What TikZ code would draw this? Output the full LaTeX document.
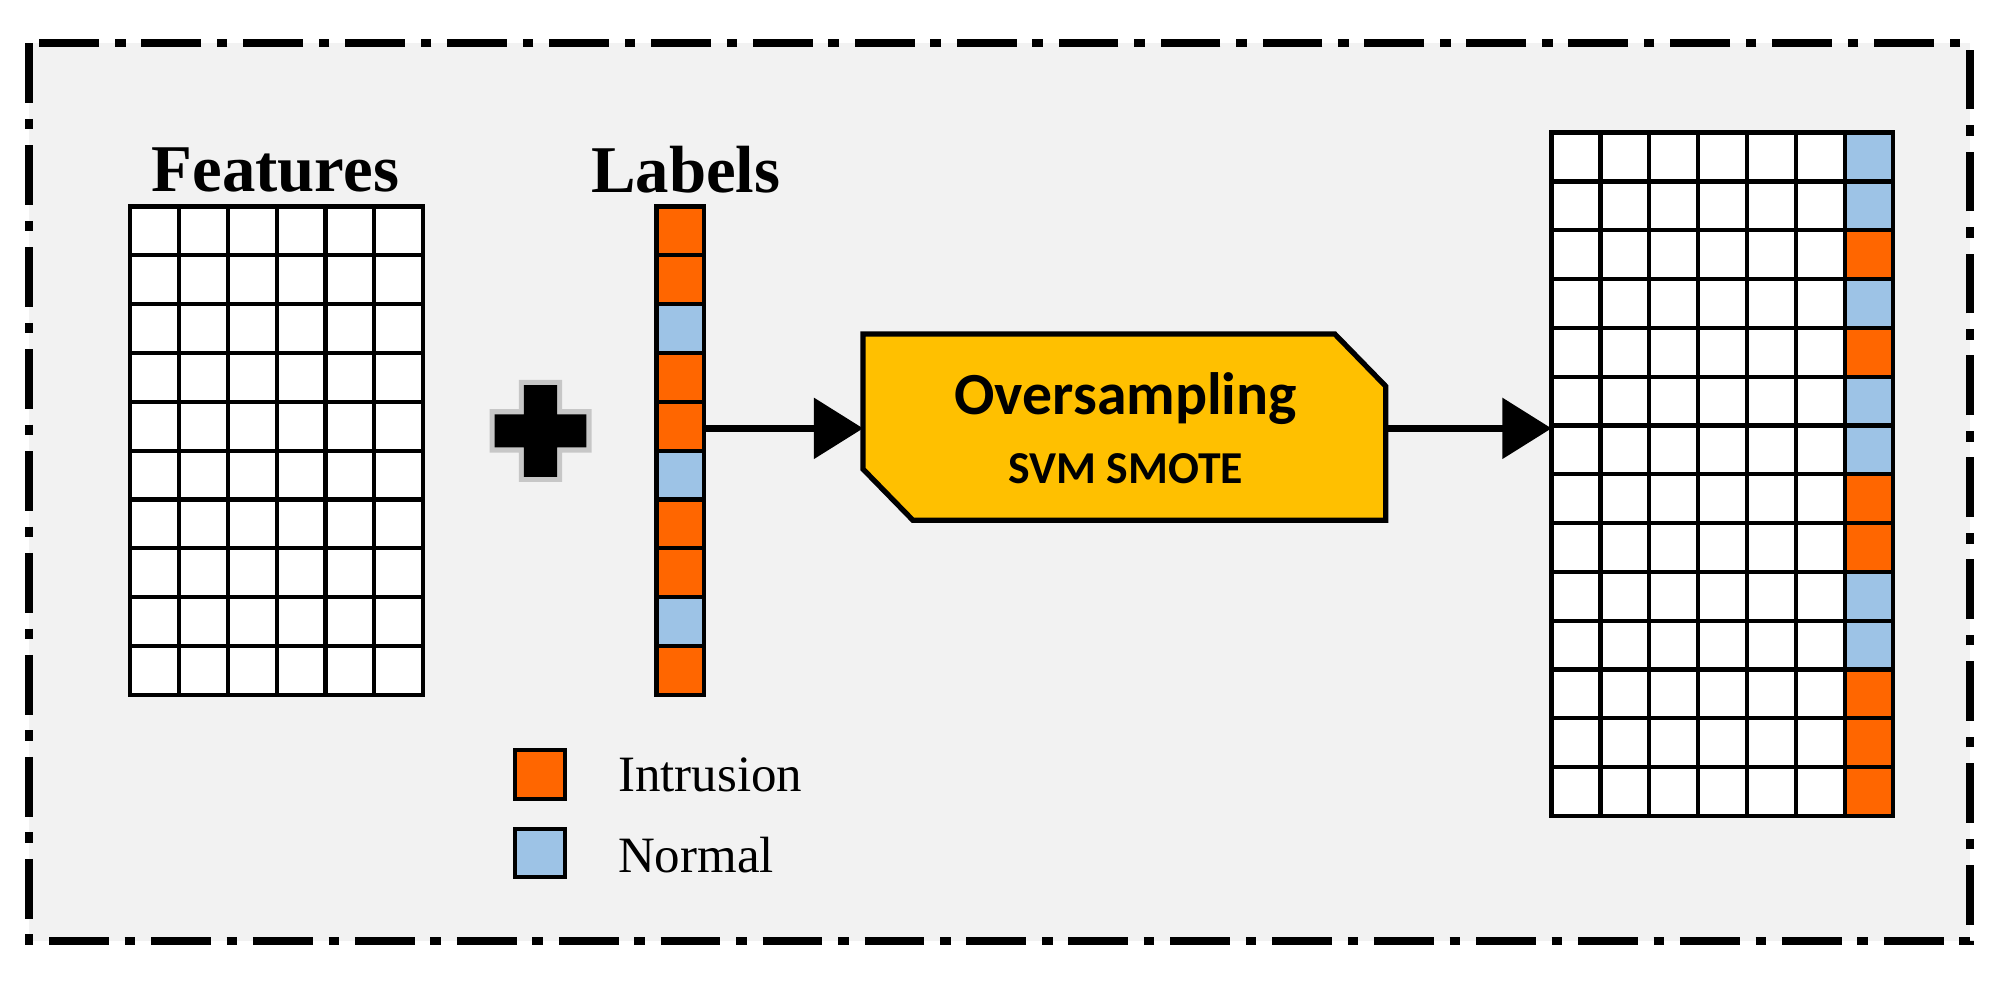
\documentclass[tikz,border=0pt]{standalone}
\usepackage{fontspec}
\setmainfont{Liberation Serif}
\newfontfamily\carfont{Carlito}
\usetikzlibrary{arrows.meta}
\definecolor{bgg}{HTML}{F2F2F2}
\definecolor{orng}{HTML}{FF6600}
\definecolor{blu}{HTML}{9DC3E6}
\definecolor{gold}{HTML}{FFC000}
\begin{document}
\begin{tikzpicture}[x=0.0255cm,y=-0.0255cm,
  grid/.style={line width=2.4pt},
  cellO/.style={fill=orng},
  cellB/.style={fill=blu},
  conn/.style={line width=3.8pt,-{Triangle[length=28pt,width=34pt]}},
  ttl/.style={font=\fontsize{38}{40}\selectfont\bfseries},
  leg/.style={font=\fontsize{29}{32}\selectfont,anchor=west}]
\useasboundingbox (0,0) rectangle (1568,772);
% frame
\draw[fill=bgg,line width=4.5pt,dash pattern=on 34pt off 9pt on 6pt off 9pt] (23,34) rectangle (1545,738);
% features grid
\node[ttl] (ft) at (216,133) {Features};
\foreach \i in {0,...,5}\foreach \j in {0,...,9}
  \draw[grid,fill=white] (102+\i*38.33,162+\j*38.3) rectangle ++(38.33,38.3);
% labels column
\node[ttl] (lt) at (538,133) {Labels};
\foreach \c [count=\j from 0] in {O,O,B,O,O,B,O,O,B,O}
  \draw[grid,cell\c] (515,162+\j*38.3) rectangle ++(37,38.3);
\coordinate (lc) at (552,336);
% plus
\fill[black!22] (407,298) rectangle (441,378) (384,321) rectangle (464,355);
\fill[black] (411,302) rectangle (437,374) (388,325) rectangle (460,351);
% oversampling
\draw[line width=3pt,fill=gold] (677,262) -- (1047,262) -- (1087,303) -- (1087,408) -- (716,408) -- (677,368) -- cycle;
\coordinate (ovl) at (677,336);
\coordinate (ovr) at (1087,336);
\node[font=\carfont\bfseries\fontsize{34}{36}\selectfont] (ov) at (883,313) {Oversampling};
\node[font=\carfont\bfseries\fontsize{26}{28}\selectfont] (sv) at (883,368) {SVM SMOTE};
% right grid
\foreach \c [count=\j from 0] in {B,B,O,B,O,B,B,O,O,B,B,O,O,O}{
  \foreach \i in {0,...,5}
    \draw[grid,fill=white] (1217+\i*38.33,104+\j*38.29) rectangle ++(38.33,38.29);
  \draw[grid,cell\c] (1447,104+\j*38.29) rectangle ++(38,38.29);}
\coordinate (rg) at (1217,336);
% arrows
\draw[conn] (lc) -- (ovl);
\draw[conn] (ovr) -- (rg);
% legend
\draw[grid,cellO] (404,588) rectangle (443,627);
\draw[grid,cellB] (404,650) rectangle (443,688);
\node[leg] (li) at (480,608) {Intrusion};
\node[leg] (ln) at (480,671) {Normal};
\end{tikzpicture}
\end{document}
